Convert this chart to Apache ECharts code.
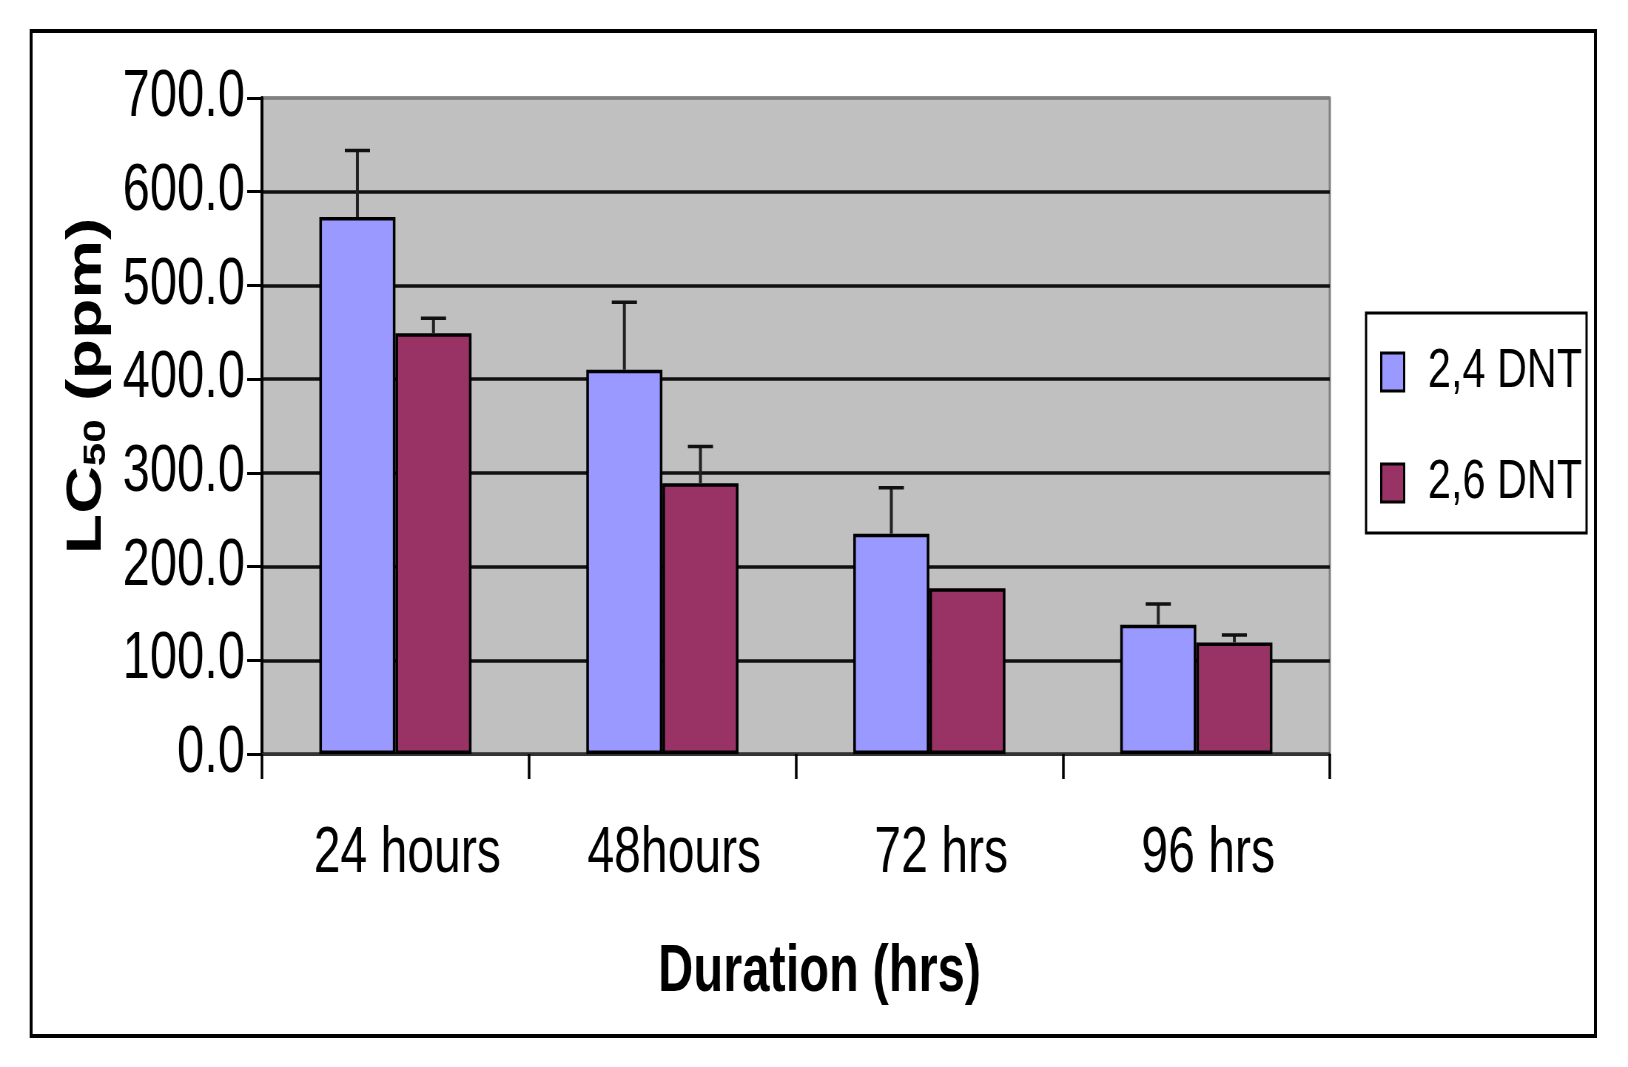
<!DOCTYPE html>
<html>
<head>
<meta charset="utf-8">
<script src="https://cdn.jsdelivr.net/npm/echarts@6/dist/echarts.min.js"></script>
<style>
html,body{margin:0;padding:0;background:#fff;overflow:hidden;}
#wrap{width:1628px;height:1067px;overflow:hidden;position:relative;background:#fff;}
#chart{width:2200px;height:1067px;transform:scaleX(0.74);transform-origin:0 0;}
</style>
</head>
<body>
<div id="wrap"><div id="chart"></div></div>
<script>
// ---- data ----
const categories = ['24 hours', '48hours', '72 hrs', '96 hrs'];
const seriesNames = ['2,4 DNT', '2,6 DNT'];
const dnt24 = [573, 410, 235, 138];
const dnt26 = [449, 289, 177, 119];
const dnt24Err = [71, 72, 49, 22];
const dnt26Err = [16, 39, 0, 8];
const yTickLabels = ['0.0', '100.0', '200.0', '300.0', '400.0', '500.0', '600.0', '700.0'];

const FONT = "'Liberation Sans', Arial, sans-serif";
const CAT_GAP = 0.43;

const errData = [];
[dnt24, dnt26].forEach(function (vals, si) {
  const errs = si === 0 ? dnt24Err : dnt26Err;
  vals.forEach(function (v, ci) { errData.push([ci, v, errs[ci], si]); });
});

const chart = echarts.init(document.getElementById('chart'));
chart.setOption({
  backgroundColor: '#fff',
  animation: false,
  graphic: [{
    type: 'rect', z: 100,
    shape: { x: 42, y: 31, width: 2114, height: 1005 },
    style: { fill: 'none', stroke: '#000', lineWidth: 4 }
  }],
  grid: {
    left: 354, right: 403, top: 98, bottom: 313,
    show: true, backgroundColor: '#c0c0c0', borderColor: '#808080', borderWidth: 3
  },
  legend: {
    data: seriesNames,
    orient: 'vertical', left: 1846, top: 313,
    itemWidth: 31, itemHeight: 38, itemGap: 55,
    padding: [31, 6, 22, 19],
    borderColor: '#000', borderWidth: 3, backgroundColor: '#fff',
    icon: 'rect',
    itemStyle: { borderColor: '#000', borderWidth: 3 },
    textStyle: { fontSize: 56, lineHeight: 56, color: '#000', fontFamily: FONT, padding: [0, 0, 0, 27] }
  },
  xAxis: {
    type: 'category', data: categories,
    axisLine: { show: true, lineStyle: { color: '#333', width: 3 } },
    axisTick: { show: true, length: 25, lineStyle: { color: '#000', width: 3.5 } },
    axisLabel: { interval: 0, fontSize: 65, lineHeight: 65, fontFamily: FONT, color: '#000', margin: 68, padding: [0, 0, 0, 32] },
    name: 'Duration (hrs)', nameLocation: 'middle', nameGap: 186,
    nameTextStyle: { fontSize: 66, fontWeight: 'bold', fontFamily: FONT, color: '#000', padding: [0, 0, 0, 64] }
  },
  yAxis: {
    type: 'value', min: 0, max: 700, interval: 100,
    axisLine: { show: true, lineStyle: { color: '#000', width: 4 } },
    axisTick: { show: true, length: 20, lineStyle: { color: '#000', width: 3 } },
    axisLabel: {
      fontSize: 66, fontFamily: FONT, color: '#000', margin: 23,
      formatter: function (v) { return yTickLabels[Math.round(v / 100)]; }
    },
    splitLine: { show: true, lineStyle: { color: ['#333', '#111', '#111', '#111', '#111', '#111', '#111', '#808080'], width: 3.5 } },
    name: 'LC{s|50} (ppm)', nameLocation: 'middle', nameGap: 203,
    nameTextStyle: {
      fontSize: 66, fontWeight: 'bold', fontFamily: FONT, color: '#000', padding: [0, 0, 0, 80],
      rich: { s: { fontSize: 42, fontWeight: 'bold', fontFamily: FONT, color: '#000', verticalAlign: 'bottom' } }
    }
  },
  series: [
    {
      name: seriesNames[0], type: 'bar', data: dnt24,
      barGap: '0%', barCategoryGap: (CAT_GAP * 100) + '%',
      itemStyle: { color: '#9999ff', borderColor: '#000', borderWidth: 3.5 }
    },
    {
      name: seriesNames[1], type: 'bar', data: dnt26,
      barGap: '0%', barCategoryGap: (CAT_GAP * 100) + '%',
      itemStyle: { color: '#993366', borderColor: '#000', borderWidth: 3.5 }
    },
    {
      type: 'custom', name: 'err', data: errData, z: 5,
      encode: { x: 0, y: 1 },
      renderItem: function (params, api) {
        const ci = api.value(0), v = api.value(1), e = api.value(2), si = api.value(3);
        if (!e) return null;
        const cw = api.size([1, 0])[0];
        const bw = cw * (1 - CAT_GAP) / 2;
        const off = si === 0 ? -bw / 2 : bw / 2;
        const p0 = api.coord([ci, v]);
        const p1 = api.coord([ci, v + e]);
        const x = p0[0] + off;
        return {
          type: 'group',
          children: [
            { type: 'line', shape: { x1: x, y1: p0[1], x2: x, y2: p1[1] }, style: { stroke: '#222', lineWidth: 4 } },
            { type: 'line', shape: { x1: x - 17, y1: p1[1], x2: x + 17, y2: p1[1] }, style: { stroke: '#111', lineWidth: 3.5 } }
          ]
        };
      }
    }
  ]
});
</script>
</body>
</html>
